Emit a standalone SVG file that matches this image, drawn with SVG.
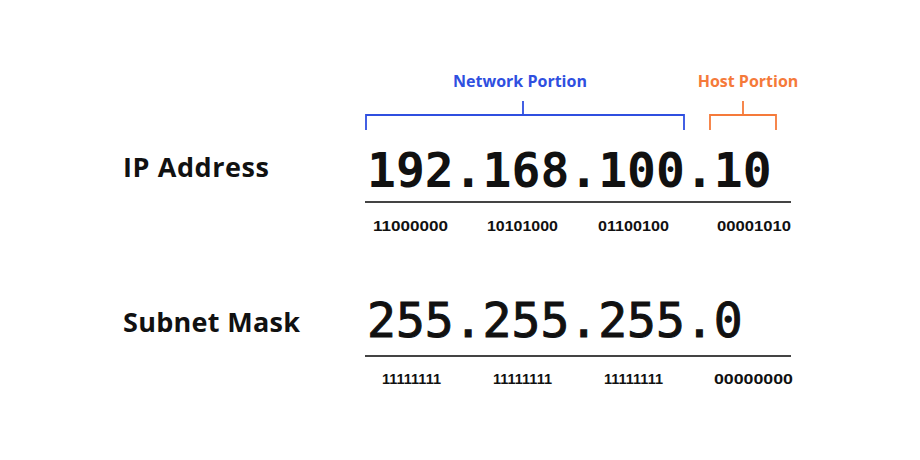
<svg xmlns="http://www.w3.org/2000/svg" width="920" height="460" viewBox="0 0 920 460">
<style>
.lbl{font-family:"Open Sans","Liberation Sans",sans-serif;font-weight:700;font-size:27px;fill:#111}
.big{font-family:"DejaVu Sans Mono",monospace;font-weight:700;font-size:48px;fill:#111}
.big2{font-family:"DejaVu Sans Mono",monospace;font-weight:400;font-size:48px;fill:#111;stroke:#111;stroke-width:1}
.bin{font-family:"Liberation Sans",sans-serif;font-weight:700;font-size:15.5px;fill:#111}
.por{font-family:"Open Sans","Liberation Sans",sans-serif;font-weight:700;font-size:16px;text-anchor:middle}
.rule{stroke:#444;stroke-width:1.8;fill:none}
.net{stroke:#2f4fe0;stroke-width:1.8;fill:none}
.host{stroke:#f57a3a;stroke-width:1.8;fill:none}
</style>
<rect width="920" height="460" fill="#fff"/>
<g id="network-portion">
<text class="por" x="520" y="87" fill="#2f4fe0">Network Portion</text>
</g>
<g id="host-portion">
<text class="por" x="748" y="87" fill="#f57a3a">Host Portion</text>
</g>
<g id="connectors">
<path class="net" d="M366,130 V115 H684 V130 M523,101 V115"/>
<path class="host" d="M710,130 V115 H776 V130 M743,101 V115"/>
<line class="rule" x1="365" y1="202" x2="791" y2="202"/>
<line class="rule" x1="365" y1="356" x2="791" y2="356"/>
</g>
<g id="ip-address">
<text class="lbl" x="123" y="177" textLength="146">IP Address</text>
<text class="big" x="367" y="187">192.168.100.10</text>
<text class="bin" x="373" y="231" textLength="75" lengthAdjust="spacingAndGlyphs">11000000</text>
<text class="bin" x="487" y="231" textLength="71" lengthAdjust="spacingAndGlyphs">10101000</text>
<text class="bin" x="598" y="231" textLength="71" lengthAdjust="spacingAndGlyphs">01100100</text>
<text class="bin" x="717" y="231" textLength="74" lengthAdjust="spacingAndGlyphs">00001010</text>
</g>
<g id="subnet-mask">
<text class="lbl" x="123" y="332" textLength="177">Subnet Mask</text>
<text class="big2" x="367" y="337">255.255.255.0</text>
<text class="bin" x="382" y="384" textLength="59" lengthAdjust="spacingAndGlyphs">11111111</text>
<text class="bin" x="493" y="384" textLength="59" lengthAdjust="spacingAndGlyphs">11111111</text>
<text class="bin" x="604" y="384" textLength="59" lengthAdjust="spacingAndGlyphs">11111111</text>
<text class="bin" x="714" y="384" textLength="79" lengthAdjust="spacingAndGlyphs">00000000</text>
</g>
</svg>
